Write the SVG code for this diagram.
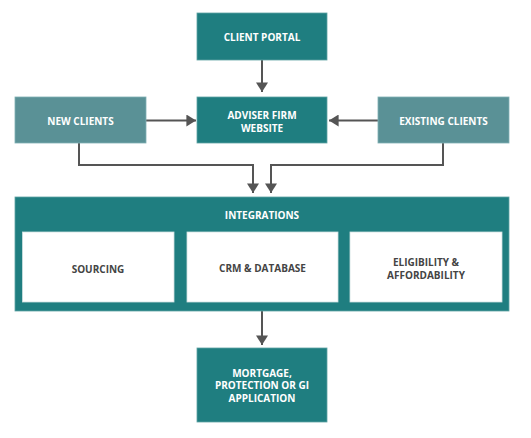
<svg xmlns="http://www.w3.org/2000/svg" width="531" height="438" viewBox="0 0 531 438">
<defs>
<marker id="ah" markerWidth="15" markerHeight="12" refX="12" refY="7.5" orient="auto" markerUnits="userSpaceOnUse" viewBox="0 0 12 15">
<path d="M0,0 L12,7.5 L0,15 Z" fill="#555"/>
</marker>
<style>
.dark{fill:#1f7e80;stroke:#5fa3a3;stroke-width:0.8}
.light{fill:#5a9196;stroke:#7fb0b3;stroke-width:0.8}
.inner{fill:#fff;stroke:#cfe0e0;stroke-width:0.8}
.t{font-family:"Open Sans","Liberation Sans",sans-serif;font-weight:bold;font-size:10px;fill:#fff;text-anchor:middle}
.ti{font-family:"Open Sans","Liberation Sans",sans-serif;font-weight:bold;font-size:10px;fill:#444;text-anchor:middle}
.c{fill:none;stroke:#555;stroke-width:2}
</style>
</defs>
<rect width="531" height="438" fill="#fff"/>
<g id="connectors">
<line class="c" x1="262" y1="60" x2="262" y2="92" marker-end="url(#ah)"/>
<line class="c" x1="146" y1="120.5" x2="196" y2="120.5" marker-end="url(#ah)"/>
<line class="c" x1="378" y1="120.5" x2="329" y2="120.5" marker-end="url(#ah)"/>
<polyline class="c" points="79,143 79,165 253,165 253,193" marker-end="url(#ah)"/>
<polyline class="c" points="443,143 443,165 271,165 271,193" marker-end="url(#ah)"/>
<line class="c" x1="262" y1="311" x2="262" y2="345" marker-end="url(#ah)"/>
</g>
<g id="client-portal">
<rect class="dark" x="197" y="13" width="130" height="47"/>
<text class="t" x="262" y="40.5">CLIENT PORTAL</text>
</g>
<g id="new-clients">
<rect class="light" x="15" y="97" width="131" height="46"/>
<text class="t" x="80.5" y="124.5">NEW CLIENTS</text>
</g>
<g id="adviser-firm-website">
<rect class="dark" x="197" y="97" width="130" height="46"/>
<text class="t" x="262" y="118.5">ADVISER FIRM</text>
<text class="t" x="262" y="131.5">WEBSITE</text>
</g>
<g id="existing-clients">
<rect class="light" x="378" y="97" width="131" height="46"/>
<text class="t" x="443.5" y="124.5">EXISTING CLIENTS</text>
</g>
<g id="integrations">
<rect class="dark" x="15" y="197" width="494" height="114"/>
<text class="t" x="262" y="219">INTEGRATIONS</text>
</g>
<g id="sourcing">
<rect class="inner" x="22.5" y="232" width="151.5" height="70"/>
<text class="ti" x="98" y="273">SOURCING</text>
</g>
<g id="crm-database">
<rect class="inner" x="187" y="232" width="151" height="70"/>
<text class="ti" x="262.5" y="272">CRM &amp; DATABASE</text>
</g>
<g id="eligibility-affordability">
<rect class="inner" x="350" y="232" width="152" height="70"/>
<text class="ti" x="426" y="266">ELIGIBILITY &amp;</text>
<text class="ti" x="426" y="278.5">AFFORDABILITY</text>
</g>
<g id="application">
<rect class="dark" x="197" y="348" width="130" height="74"/>
<text class="t" x="262" y="376.5">MORTGAGE,</text>
<text class="t" x="262" y="389">PROTECTION OR GI</text>
<text class="t" x="262" y="401.5">APPLICATION</text>
</g>
</svg>
